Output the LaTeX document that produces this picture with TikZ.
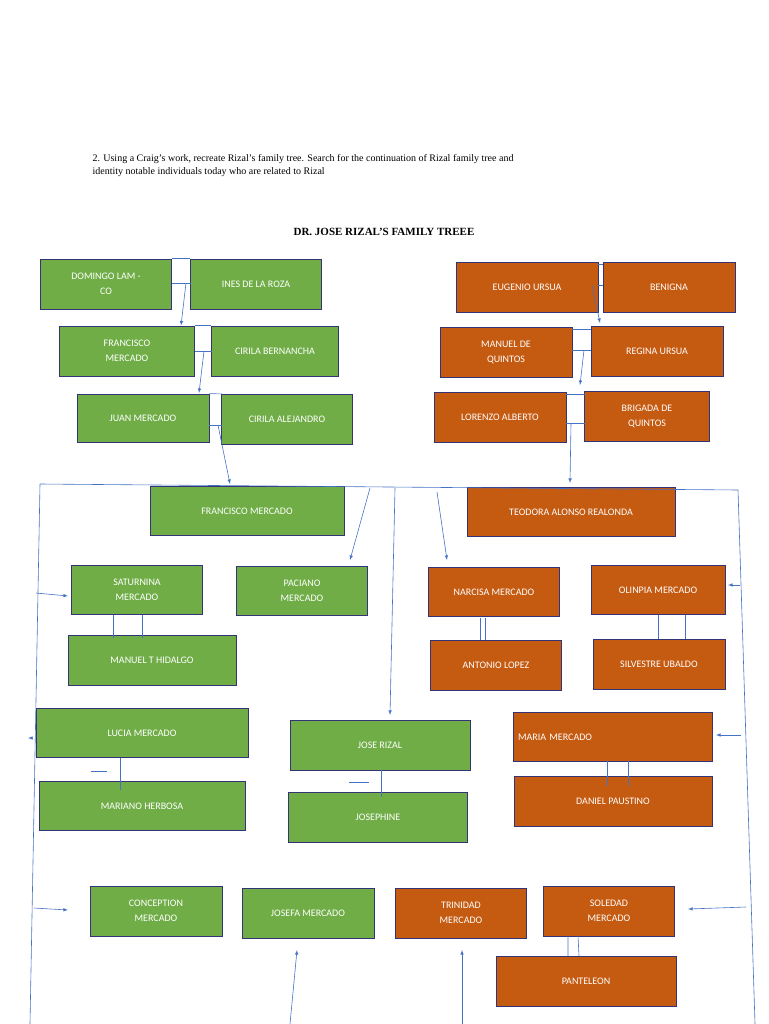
\documentclass[tikz,border=0pt]{standalone}
\usepackage{fontspec}
\setmainfont{Liberation Serif}
\newfontfamily\boxfont{Carlito}
\begin{document}
\begin{tikzpicture}[x=1pt,y=-1pt,
 g/.style={draw=black!55!blue!60!gray,line width=0.9pt,fill={rgb,255:red,112;green,173;blue,71},text=white,font=\boxfont\fontsize{10}{15}\selectfont,align=center,inner sep=0pt},
 o/.style={g,fill={rgb,255:red,197;green,90;blue,17}},
 ln/.style={draw={rgb,255:red,68;green,114;blue,196},line width=0.6pt},
 ar/.style={ln,-latex}]
\useasboundingbox (0,0) rectangle (768,1024);
\newcommand{\bx}[6]{\node[#1,minimum width=#4-#3,minimum height=#6-#5] (#2) at ({(#3+#4)/2},{(#5+#6)/2}) {};}
\node[anchor=west,font=\fontsize{10}{13}\selectfont,align=left] (q) at (89,166) {2. Using a Craig's work, recreate Rizal's family tree. Search for the continuation of Rizal family tree and\\identity notable individuals today who are related to Rizal};
\node[font=\bfseries\fontsize{11}{13}\selectfont] (title) at (384,232) {DR. JOSE RIZAL'S FAMILY TREEE};
% boxes
\node[g,minimum width=131,minimum height=50] (dom) at (106,284) {DOMINGO LAM -\\CO};
\node[g,minimum width=131,minimum height=50] (ines) at (256,284) {INES DE LA ROZA};
\node[g,minimum width=135,minimum height=50] (fra1) at (127,351) {FRANCISCO\\MERCADO};
\node[g,minimum width=127,minimum height=50] (cirb) at (275,351) {CIRILA BERNANCHA};
\node[g,minimum width=132,minimum height=48] (juan) at (143,418) {JUAN MERCADO};
\node[g,minimum width=131,minimum height=50] (cira) at (287,419) {CIRILA ALEJANDRO};
\node[o,minimum width=142,minimum height=50] (eug) at (527,287) {EUGENIO URSUA};
\node[o,minimum width=132,minimum height=50] (ben) at (669,287) {BENIGNA};
\node[o,minimum width=132,minimum height=50] (man) at (506,352) {MANUEL DE\\QUINTOS};
\node[o,minimum width=132,minimum height=50] (reg) at (657,351) {REGINA URSUA};
\node[o,minimum width=132,minimum height=50] (lor) at (500,417) {LORENZO ALBERTO};
\node[o,minimum width=125,minimum height=50] (bri) at (647,416) {BRIGADA DE\\QUINTOS};
\node[g,minimum width=194,minimum height=49,anchor=north,inner sep=5pt] (fra2) at (247,486) {FRANCISCO MERCADO};
\node[o,minimum width=208,minimum height=49] (teo) at (571,512) {TEODORA ALONSO REALONDA};
\node[g,minimum width=131,minimum height=49] (sat) at (137,590) {SATURNINA\\MERCADO};
\node[g,minimum width=131,minimum height=49] (pac) at (302,591) {PACIANO\\MERCADO};
\node[o,minimum width=131,minimum height=49] (nar) at (494,592) {NARCISA MERCADO};
\node[o,minimum width=134,minimum height=49] (oli) at (658,590) {OLINPIA MERCADO};
\node[g,minimum width=168,minimum height=50] (mant) at (152,660) {MANUEL T HIDALGO};
\node[o,minimum width=131,minimum height=50] (ant) at (496,665) {ANTONIO LOPEZ};
\node[o,minimum width=132,minimum height=50] (sil) at (659,664) {SILVESTRE UBALDO};
\node[g,minimum width=212,minimum height=49] (luc) at (142,733) {LUCIA MERCADO};
\node[g,minimum width=180,minimum height=50] (jose) at (380,745) {JOSE RIZAL};
\node[o,minimum width=199,minimum height=49,align=left,text width=190] (mar) at (613,737) {MARIA MERCADO};
\node[g,minimum width=206,minimum height=49] (mari) at (142,806) {MARIANO HERBOSA};
\node[g,minimum width=179,minimum height=50] (jph) at (378,817) {JOSEPHINE};
\node[o,minimum width=198,minimum height=50] (dan) at (613,801) {DANIEL PAUSTINO};
\node[g,minimum width=132,minimum height=50] (con) at (156,911) {CONCEPTION\\MERCADO};
\node[g,minimum width=132,minimum height=50] (jsf) at (308,913) {JOSEFA MERCADO};
\node[o,minimum width=131,minimum height=50] (tri) at (461,913) {TRINIDAD\\MERCADO};
\node[o,minimum width=131,minimum height=50] (sol) at (609,911) {SOLEDAD\\MERCADO};
\node[o,minimum width=180,minimum height=50] (pan) at (586,981) {PANTELEON};
% couple links top
\draw[ln] (dom.north east) -- (ines.north west);
\draw[ln] (172,283) -- (191,283);
\draw[ar] (186,283) -- (fra1.north east -| 181,0) ;
\draw[ln] (fra1.north east) -- (cirb.north west);
\draw[ln] (195,351) -- (212,351);
\draw[ar] (204,351) -- (199,393);
\draw[ln] (juan.north east) -- (222,394);
\draw[ln] (209,425) -- (222,425);
\draw[ar] (218,425) -- (230,484);
\draw[ln] (598,264) -- (603,264);
\draw[ln] (598,285) -- (603,285);
\draw[ar] (592,285) -- (600,323);
\draw[ln] (572,329) -- (591,329);
\draw[ln] (572,350) -- (591,350);
\draw[ar] (584,350) -- (580,385);
\draw[ln] (566,394) -- (585,394);
\draw[ln] (566,423) -- (585,423);
\draw[ar] (571,423) -- (570,483);
% main horizontal
\coordinate (hl) at (40,484);
\coordinate (hr) at (738,490);
\draw[ln] (hl) -- (hr);
\draw[ln] (hl) -- (30,1024);
\draw[ln] (hr) -- (755,1024);
\draw[ar] (370,488) -- (350,560);
\draw[ar] (437,492) -- (447,560);
\draw[ar] (395,488) -- (390,715);
\draw[ar] (36,593) -- (68,596);
\draw[ar] (33,738) -- (28,738);
\draw[ar] (34,908) -- (68,910);
\draw[ar] (740,585) -- (728,585);
\draw[ar] (741,735) -- (716,735);
\draw[ar] (746,907) -- (688,909);
\draw[ar] (290,1024) -- (297,950);
\draw[ar] (462,1024) -- (462,950);
% couple links lower
\draw[ln] (113,615) -- (113,638) (142,615) -- (142,638);
\draw[ln] (480,618) -- (480,640) (485,618) -- (485,640);
\draw[ln] (658,615) -- (658,639) (685,615) -- (685,639);
\draw[ln] (120,758) -- (120,790);
\draw[ln] (91,771) -- (107,771);
\draw[ln] (381,770) -- (381,797);
\draw[ln] (349,782) -- (369,782);
\draw[ln] (607,761) -- (607,786) (628,761) -- (628,786);
\draw[ln] (568,936) -- (568,956) (578,936) -- (579,956);
\end{tikzpicture}
\end{document}
